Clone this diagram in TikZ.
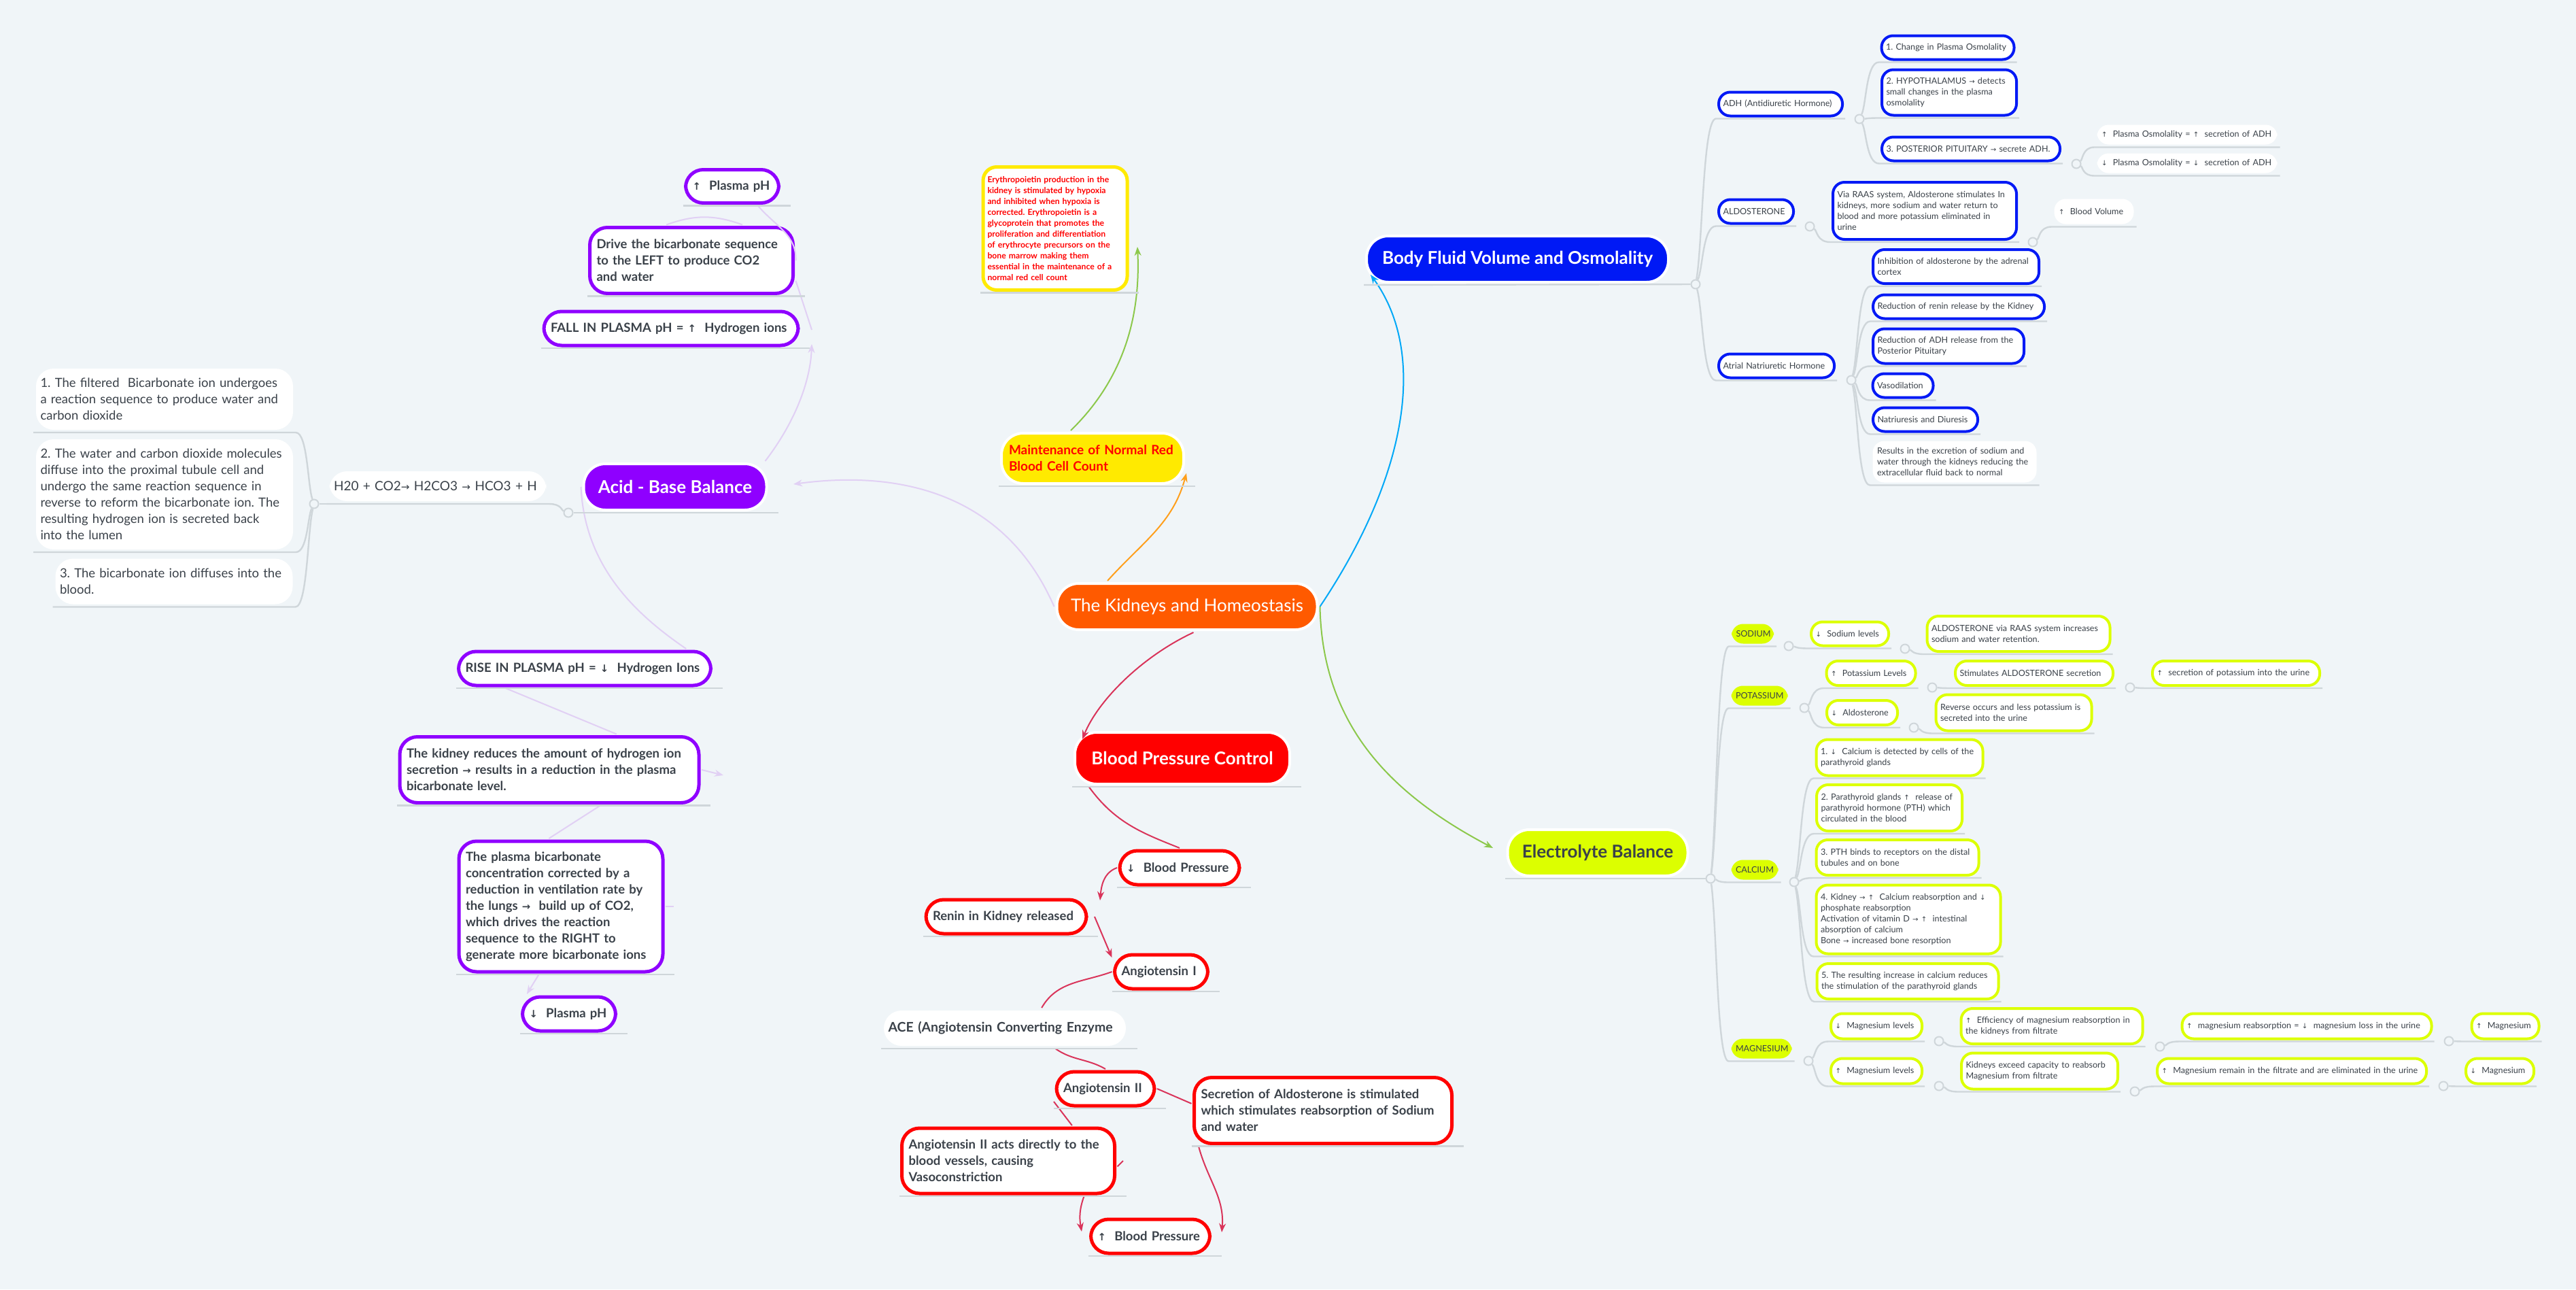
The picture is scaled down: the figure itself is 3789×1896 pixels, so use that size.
\documentclass[tikz,border=0pt]{standalone}
\usepackage{fontspec}
\setmainfont{Lato}
\newfontfamily\arrowfont[Scale=0.8]{DejaVu Sans}
\usetikzlibrary{calc, arrows.meta}
\definecolor{paper}{HTML}{F0F5F8}
\definecolor{inkdark}{HTML}{3A4149}
\definecolor{twiggrey}{HTML}{CFD6DA}
\definecolor{violet1}{HTML}{8F00FF}
\definecolor{violetline}{HTML}{E1D0F4}
\definecolor{red1}{HTML}{FF0000}
\definecolor{crimson}{HTML}{D9345A}
\definecolor{blue1}{HTML}{0019F5}
\definecolor{lime1}{HTML}{DCFF00}
\definecolor{yellow1}{HTML}{FFEA00}
\definecolor{orange1}{HTML}{FF5A00}
\definecolor{grass}{HTML}{8CC84B}
\definecolor{amber}{HTML}{FF9F1C}
\definecolor{sky}{HTML}{00A8F7}
\newcommand{\ua}{{\arrowfont ↑}}
\newcommand{\da}{{\arrowfont ↓}}
\newcommand{\ra}{{\arrowfont →}}
\tikzset{
    >={Stealth[length=13pt, width=10pt]}, % arrow heads
    box/.style={rectangle, draw, fill=white, text=inkdark, align=left, outer sep=4pt, inner ysep=0pt,
        font=\fontsize{12.6}{16}\selectfont\frenchspacing, rounded corners=17pt, line width=4pt},
    wide/.code={\pgfmathsetmacro\boxtw{#1-4-13}\tikzset{text width=\boxtw pt, inner xsep=6.5pt}},
    bigwide/.code={\pgfmathsetmacro\boxtw{#1-5-20}\tikzset{text width=\boxtw pt, inner xsep=10pt}},
    tall/.style={minimum height=#1-3},
    bluebox/.style={box, draw=blue1},
    limebox/.style={box, draw=lime1},
    plain/.style={box, draw=none},
    bigbox/.style={box, line width=5pt, rounded corners=26pt, font=\fontsize{18.5}{24}\selectfont\bfseries\frenchspacing},
    violetbox/.style={bigbox, draw=violet1},
    redbox/.style={bigbox, draw=red1},
    plainbig/.style={box, draw=none, rounded corners=26pt, font=\fontsize{18.5}{24}\selectfont\frenchspacing},
    limetag/.style={box, draw=none, fill=lime1},
    topic/.style={box, draw=white, line width=4pt, rounded corners=32pt, align=center, text=white, inner sep=0pt,
        font=\fontsize{26}{30}\selectfont\bfseries},
    hub/.style={circle, draw=twiggrey, fill=paper, line width=2pt, minimum width=13pt, inner sep=0pt},
    twig/.style={draw=twiggrey, line width=2.4pt},
    link/.style={->, line width=2pt},
    bare/.style={line width=2pt},
}
% curved twig from a hub to the underline of a node on its right / on its left
\newcommand{\branch}[2]{\draw[twig] let \p1=(#1.center), \p2=(#2.south west) in
    (#1) .. controls (.65*\x1+.35*\x2, .75*\y1+.25*\y2) and (.65*\x1+.35*\x2, \y2) .. (\p2) -- (#2.south east);}
\newcommand{\branchl}[2]{\draw[twig] let \p1=(#1.center), \p2=(#2.south east) in
    (#1) .. controls (.65*\x1+.35*\x2, .75*\y1+.25*\y2) and (.65*\x1+.35*\x2, \y2) .. (\p2) -- (#2.south west);}
\begin{document}
\begin{tikzpicture}[x=1pt, y=-1pt]
    \useasboundingbox[fill=paper] (0,0) rectangle (3789,1896);

    % centre
    \node[topic, fill=orange1, minimum width=383pt, minimum height=68pt, font=\fontsize{26}{30}\selectfont] (kidneys) at (1746,892) {The Kidneys and Homeostasis};

    % acid - base side
    \node[topic, fill=violet1, minimum width=269pt, minimum height=68pt] (acid) at (993,716) {Acid - Base Balance};
    \node[plainbig, wide=323, tall=47, font=\fontsize{19}{24}\selectfont] (eq) at (644,715) {H20 + CO2\ra\ H2CO3 \ra\ HCO3 + H};
    \node[plainbig, wide=382, tall=93] (acid1) at (242,587) {1. The filtered\ \ Bicarbonate ion undergoes\\a reaction sequence to produce water and\\carbon dioxide};
    \node[plainbig, wide=382, tall=165] (acid2) at (242,727) {2. The water and carbon dioxide molecules\\diffuse into the proximal tubule cell and\\undergo the same reaction sequence in\\reverse to reform the bicarbonate ion. The\\resulting hydrogen ion is secreted back\\into the lumen};
    \node[plainbig, wide=353, tall=70] (acid3) at (256,855) {3. The bicarbonate ion diffuses into the\\blood.};
    \node[violetbox, bigwide=142, tall=52] (phup) at (1077,274) {\ua\ \ Plasma pH};
    \node[violetbox, bigwide=304, tall=100] (drive) at (1017,383) {Drive the bicarbonate sequence\\to the LEFT to produce CO2\\and water};
    \node[violetbox, bigwide=379, tall=53] (fall) at (987,483) {FALL IN PLASMA pH = \ua\ \ Hydrogen ions};
    \node[violetbox, bigwide=376, tall=53] (rise) at (860,983) {RISE IN PLASMA pH = \da\ \ Hydrogen Ions};
    \node[violetbox, bigwide=445, tall=100] (reduce) at (808,1132) {The kidney reduces the amount of hydrogen ion\\secretion \ra\ results in a reduction in the plasma\\bicarbonate level.};
    \node[violetbox, bigwide=305, tall=195] (correct) at (825,1333) {The plasma bicarbonate\\concentration corrected by a\\reduction in ventilation rate by\\the lungs \ra\ \ build up of CO2,\\which drives the reaction\\sequence to the RIGHT to\\generate more bicarbonate ions};
    \node[violetbox, bigwide=142, tall=53] (phdown) at (837,1491) {\da\ \ Plasma pH};

    % red cell count
    \node[topic, fill=yellow1, text=red1, align=left, text width=246pt, inner xsep=11pt, minimum height=74pt, font=\fontsize{19}{24}\selectfont\bfseries] (redcount) at (1607,674) {Maintenance of Normal Red\\Blood Cell Count};
    \node[box, draw=yellow1, text=red1, wide=216, tall=184, line width=5pt, rounded corners=20pt, font=\fontsize{12.2}{16}\selectfont\bfseries\frenchspacing] (epo) at (1552,336) {Erythropoietin production in the\\kidney is stimulated by hypoxia\\and inhibited when hypoxia is\\corrected. Erythropoietin is a\\glycoprotein that promotes the\\proliferation and differentiation\\of erythrocyte precursors on the\\bone marrow making them\\essential in the maintenance of a\\normal red cell count};

    % blood pressure
    \node[topic, fill=red1, minimum width=316pt, minimum height=76pt] (bpc) at (1739,1115) {Blood Pressure Control};
    \node[redbox, bigwide=181, tall=53] (bpdown) at (1735,1276) {\da\ \ Blood Pressure};
    \node[redbox, bigwide=241, tall=53] (renin) at (1480,1348) {Renin in Kidney released};
    \node[redbox, bigwide=142, tall=53] (ang1) at (1708,1429) {Angiotensin I};
    \node[plainbig, wide=360, tall=55, font=\fontsize{19.5}{24}\selectfont\bfseries] (ace) at (1478,1512) {ACE (Angiotensin Converting Enzyme};
    \node[redbox, bigwide=149, tall=53] (ang2) at (1626,1601) {Angiotensin II};
    \node[redbox, bigwide=384, tall=100] (aldo) at (1946,1633) {Secretion of Aldosterone is stimulated\\which stimulates reabsorption of Sodium\\and water};
    \node[redbox, bigwide=318, tall=99] (direct) at (1483,1707) {Angiotensin II acts directly to the\\blood vessels, causing\\Vasoconstriction};
    \node[redbox, bigwide=180, tall=53] (bpup) at (1692,1818) {\ua\ \ Blood Pressure};

    % body fluid
    \node[topic, fill=blue1, minimum width=444pt, minimum height=68pt] (fluid) at (2232,381) {Body Fluid Volume and Osmolality};
    \node[hub] (hfluid) at (2494,418) {};
    \node[bluebox, wide=186, tall=38] (adh) at (2619,153) {ADH (Antidiuretic Hormone)};
    \node[hub] (hadh) at (2735,175) {};
    \node[bluebox, wide=199, tall=38] (osm1) at (2865,70) {1. Change in Plasma Osmolality};
    \node[bluebox, wide=202, tall=70] (osm2) at (2867,136) {2. HYPOTHALAMUS \ra\ detects\\small changes in the plasma\\osmolality};
    \node[bluebox, wide=266, tall=38] (osm3) at (2899,219) {3. POSTERIOR PITUITARY \ra\ secrete ADH.};
    \node[hub] (hosm3) at (3054,241) {};
    \node[plain, wide=269, tall=32] (osmup) at (3217,198) {\ua\ \ Plasma Osmolality = \ua\ \ secretion of ADH};
    \node[plain, wide=269, tall=32] (osmdown) at (3217,240) {\da\ \ Plasma Osmolality = \da\ \ secretion of ADH};
    \node[bluebox, wide=114, tall=38] (aldosterone) at (2583,311) {ALDOSTERONE};
    \node[hub] (haldo) at (2662,333) {};
    \node[bluebox, wide=274, tall=87] (raas) at (2831,310) {Via RAAS system, Aldosterone stimulates In\\kidneys, more sodium and water return to\\blood and more potassium eliminated in\\urine};
    \node[hub] (hraas) at (2990,356) {};
    \node[plain, wide=121, tall=40] (volume) at (3080,311) {\ua\ \ Blood Volume};
    \node[bluebox, wide=174, tall=38] (atrial) at (2613,538) {Atrial Natriuretic Hormone};
    \node[hub] (hatrial) at (2723,559) {};
    \node[bluebox, wide=248, tall=53] (inhib) at (2877,392) {Inhibition of aldosterone by the adrenal\\cortex};
    \node[bluebox, wide=256, tall=38] (renrel) at (2881,451) {Reduction of renin release by the Kidney};
    \node[bluebox, wide=226, tall=54] (adhrel) at (2866,509) {Reduction of ADH release from the\\Posterior Pituitary};
    \node[bluebox, wide=93, tall=38] (vaso) at (2799,567) {Vasodilation};
    \node[bluebox, wide=158, tall=38] (natri) at (2832,617) {Natriuresis and Diuresis};
    \node[plain, wide=245, tall=64] (result) at (2875,679) {Results in the excretion of sodium and\\water through the kidneys reducing the\\extracellular fluid back to normal};

    % electrolytes
    \node[topic, fill=lime1, text=inkdark, minimum width=265pt, minimum height=68pt] (electro) at (2350,1254) {Electrolyte Balance};
    \node[hub] (helectro) at (2516,1292) {};
    \node[limetag, wide=66, tall=32] (sodium) at (2578,932) {SODIUM};
    \node[hub] (hsodium) at (2631,950) {};
    \node[limebox, wide=118, tall=38] (nalevel) at (2721,932) {\da\ \ Sodium levels};
    \node[hub] (hnalevel) at (2802,954) {};
    \node[limebox, wide=273, tall=55] (naaldo) at (2969,932) {ALDOSTERONE via RAAS system increases\\sodium and water retention.};
    \node[limetag, wide=87, tall=32] (potassium) at (2588,1023) {POTASSIUM};
    \node[hub] (hpotassium) at (2654,1041) {};
    \node[limebox, wide=135, tall=39] (klevel) at (2752,990) {\ua\ \ Potassium Levels};
    \node[hub] (hklevel) at (2842,1011) {};
    \node[limebox, wide=236, tall=39] (kaldo) at (2992,990) {Stimulates ALDOSTERONE secretion};
    \node[hub] (hkaldo) at (3133,1011) {};
    \node[limebox, wide=250, tall=39] (ksec) at (3289,990) {\ua\ \ secretion of potassium into the urine};
    \node[limebox, wide=108, tall=39] (kdown) at (2739,1048) {\da\ \ Aldosterone};
    \node[hub] (hkdown) at (2815,1070) {};
    \node[limebox, wide=233, tall=56] (krev) at (2962,1048) {Reverse occurs and less potassium is\\secreted into the urine};
    \node[limetag, wide=73, tall=32] (calcium) at (2581,1279) {CALCIUM};
    \node[hub] (hcalcium) at (2639,1297) {};
    \node[limebox, wide=249, tall=56] (ca1) at (2794,1114) {1. \da\ \ Calcium is detected by cells of the\\parathyroid glands};
    \node[limebox, wide=218, tall=71] (ca2) at (2779,1188) {2. Parathyroid glands \ua\ \ release of\\parathyroid hormone (PTH) which\\circulated in the blood};
    \node[limebox, wide=243, tall=55] (ca3) at (2791,1261) {3. PTH binds to receptors on the distal\\tubules and on bone};
    \node[limebox, wide=275, tall=104] (ca4) at (2807,1352) {4. Kidney \ra\ \ua\ \ Calcium reabsorption and \da\\phosphate reabsorption\\Activation of vitamin D \ra\ \ua\ \ intestinal\\absorption of calcium\\Bone \ra\ increased bone resorption};
    \node[limebox, wide=271, tall=55] (ca5) at (2806,1443) {5. The resulting increase in calcium reduces\\the stimulation of the parathyroid glands};
    \node[limetag, wide=93, tall=32] (magnesium) at (2591,1542) {MAGNESIUM};
    \node[hub] (hmagnesium) at (2660,1560) {};
    \node[limebox, wide=138, tall=40] (mglow) at (2760,1509) {\da\ \ Magnesium levels};
    \node[hub] (hmglow) at (2852,1531) {};
    \node[limebox, wide=271, tall=55] (mgeff) at (3018,1509) {\ua\ \ Efficiency of magnesium reabsorption in\\the kidneys from filtrate};
    \node[hub] (hmgeff) at (3177,1539) {};
    \node[limebox, wide=371, tall=40] (mgreab) at (3393,1509) {\ua\ \ magnesium reabsorption = \da\ \ magnesium loss in the urine};
    \node[hub] (hmgreab) at (3602,1531) {};
    \node[limebox, wide=103, tall=40] (mgup) at (3685,1509) {\ua\ \ Magnesium};
    \node[limebox, wide=138, tall=40] (mghigh) at (2760,1575) {\ua\ \ Magnesium levels};
    \node[hub] (hmghigh) at (2852,1597) {};
    \node[limebox, wide=234, tall=56] (mgcap) at (3000,1575) {Kidneys exceed capacity to reabsorb\\Magnesium from filtrate};
    \node[hub] (hmgcap) at (3140,1605) {};
    \node[limebox, wide=400, tall=40] (mgrem) at (3371,1575) {\ua\ \ Magnesium remain in the filtrate and are eliminated in the urine};
    \node[hub] (hmgrem) at (3594,1597) {};
    \node[limebox, wide=104, tall=40] (mgdown) at (3677,1575) {\da\ \ Magnesium};

    % free ends
    \coordinate (acidtip) at (1167,712);
    \coordinate (epotip) at (1673,363);
    \coordinate (fluidtip) at (2016,404);
    \coordinate (electip) at (2196,1247);
    \coordinate (bpctip) at (1592,1087);
    \coordinate (falltip) at (1194,506);
    \coordinate (fallside) at (1194,485);
    \coordinate (reducetip) at (1064,1140);
    \coordinate (correcttick) at (991,1333);
    \coordinate (reninfoot) at (1618,1324);
    \coordinate (directtick) at (1652,1707);
    \coordinate (bpuptip1) at (1591,1811);
    \coordinate (bpuptip2) at (1797,1812);

    % centre links
    \draw[link, violetline] (kidneys.west) .. controls (1480,730) and (1330,690) .. (acidtip);
    \path (kidneys.162) edge[link, amber, out=48, in=255] (redcount.-9);
    \draw[link, grass] (redcount.128) .. controls (1650,560) and (1678,470) .. (epotip);
    \draw[link, sky] (kidneys.east) .. controls (2070,700) and (2100,520) .. (fluidtip);
    \draw[link, grass] (kidneys.east) .. controls (1945,1070) and (2050,1170) .. (electip);
    \draw[link, crimson] (kidneys.-76) .. controls (1680,965) and (1615,1030) .. (bpctip);
    \draw[bare, crimson] (bpc.197) .. controls (1640,1210) and (1680,1225) .. (bpdown.north);

    % acid links
    \draw[link, violetline] (acid.16) .. controls (1170,620) and (1192,560) .. (falltip);
    \path[bare, violetline]
    (fallside) edge (drive.-11)
    (drive.east) edge[out=88, in=-50] (phup.-37)
    (drive.125) edge[out=20, in=160] (drive.35)
    (rise.194) edge (reduce.28)
    (reduce.-35) edge (correct.100)
    (correct.east) edge (correcttick);
    \draw[bare, violetline] (acid.west) .. controls (860,830) and (930,900) .. (rise.11);
    \draw[link, violetline] (reduce.east) -- (reducetip);
    \draw[link, violetline] (correct.252) -- (phdown.155);

    % blood pressure links
    \draw[link, crimson] (bpdown.west) to[out=200, in=85] (reninfoot);
    \draw[link, crimson] ([xshift=8pt]renin.east) -- (ang1.164);
    \path[bare, crimson]
    (ang1.west) edge[out=200, in=60] (ace.29)
    (ace.-22) edge[out=-35, in=150] (ang2.north)
    (ang2.east) edge (aldo.177)
    (ang2.194) edge (direct.29)
    (direct.-3) edge (directtick);
    \draw[link, crimson] (direct.-25) to[out=250, in=100] (bpuptip1);
    \draw[link, crimson] (aldo.196) to[out=-75, in=85] (bpuptip2);

    % underlines
    \foreach \n in {phup, drive, fall, rise, reduce, correct, phdown, epo, redcount, bpc, bpdown, renin, ang1, ace, ang2, aldo, direct, bpup}
        \draw[twig] (\n.south west) -- ([xshift=13pt]\n.south east);

    % twigs
    \draw[twig] (hfluid) -- (fluid.south west);
    \branch{hfluid}{adh}
    \branch{hfluid}{aldosterone}
    \branch{hfluid}{atrial}
    \branch{hadh}{osm1}
    \branch{hadh}{osm2}
    \branch{hadh}{osm3}
    \branch{hosm3}{osmup}
    \branch{hosm3}{osmdown}
    \branch{haldo}{raas}
    \branch{hraas}{volume}
    \branch{hatrial}{inhib}
    \branch{hatrial}{renrel}
    \branch{hatrial}{adhrel}
    \branch{hatrial}{vaso}
    \branch{hatrial}{natri}
    \branch{hatrial}{result}
    \draw[twig] (helectro) -- (electro.south west);
    \branch{helectro}{sodium}
    \branch{helectro}{potassium}
    \branch{helectro}{calcium}
    \branch{helectro}{magnesium}
    \branch{hsodium}{nalevel}
    \branch{hnalevel}{naaldo}
    \branch{hpotassium}{klevel}
    \branch{hklevel}{kaldo}
    \branch{hkaldo}{ksec}
    \branch{hpotassium}{kdown}
    \branch{hkdown}{krev}
    \branch{hcalcium}{ca1}
    \branch{hcalcium}{ca2}
    \branch{hcalcium}{ca3}
    \branch{hcalcium}{ca4}
    \branch{hcalcium}{ca5}
    \branch{hmagnesium}{mglow}
    \branch{hmglow}{mgeff}
    \branch{hmgeff}{mgreab}
    \branch{hmgreab}{mgup}
    \branch{hmagnesium}{mghigh}
    \branch{hmghigh}{mgcap}
    \branch{hmgcap}{mgrem}
    \branch{hmgrem}{mgdown}

    % acid tree, it opens to the left
    \node[hub] (hacid) at (836,754) {};
    \node[hub] (heq) at (462,741) {};
    \draw[twig] (hacid) -- (acid.south west) -- ([xshift=13pt]acid.south east);
    \branchl{hacid}{eq}
    \draw[twig] (eq.south west) -- (heq);
    \branchl{heq}{acid1}
    \branchl{heq}{acid2}
    \branchl{heq}{acid3}
\end{tikzpicture}
\end{document}
